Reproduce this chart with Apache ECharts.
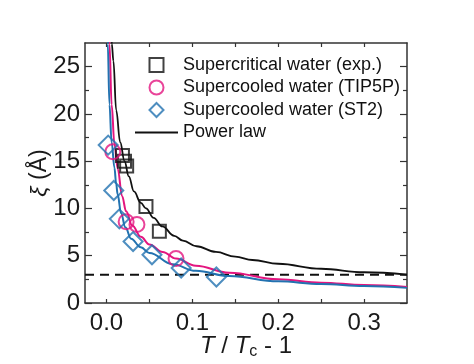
<!DOCTYPE html>
<html>
<head>
<meta charset="utf-8">
<script src="https://cdn.jsdelivr.net/npm/echarts@6/dist/echarts.min.js"></script>
<style>html,body{margin:0;padding:0;background:#fff;}#c{width:474px;height:364px;}</style>
</head>
<body>
<div id="c"></div>
<script>
// ---- data ----
const seriesNames = ['Supercritical water (exp.)', 'Supercooled water (TIP5P)', 'Supercooled water (ST2)', 'Power law'];
const expPoints = [[0.0186, 15.6], [0.021, 15.0], [0.0235, 14.5], [0.046, 10.2], [0.0616, 7.6]];
const tip5pPoints = [[0.0074, 16.0], [0.0229, 8.6], [0.0355, 8.3], [0.081, 4.7]];
const st2Points = [[0.002, 16.7], [0.0085, 11.9], [0.015, 8.9], [0.031, 6.5], [0.053, 5.1], [0.087, 3.7], [0.128, 2.75]];
const powerLawExp = [[0.0055, 29.5], [0.0062, 27.4], [0.0081, 25.6], [0.0113, 20.4], [0.016, 17.0], [0.021, 15.0], [0.026, 13.4], [0.032, 11.8], [0.040, 10.6], [0.046, 10.0], [0.055, 9.0], [0.065, 8.1], [0.079, 7.1], [0.089, 6.6], [0.105, 6.0], [0.1275, 5.4], [0.150, 4.9], [0.170, 4.55], [0.200, 4.15], [0.250, 3.62], [0.300, 3.25], [0.350, 3.0]];
const powerLawTip5p = [[0.0030, 29.5], [0.0035, 27.4], [0.0060, 21.0], [0.0093, 16.8], [0.0131, 14.2], [0.0182, 11.3], [0.0229, 9.7], [0.030, 8.2], [0.040, 7.0], [0.050, 6.2], [0.0655, 5.4], [0.081, 4.7], [0.104, 3.95], [0.143, 3.2], [0.200, 2.5], [0.250, 2.15], [0.300, 1.9], [0.350, 1.7]];
const powerLawSt2 = [[0.0012, 29.5], [0.0015, 27.4], [0.0035, 21.0], [0.0060, 17.0], [0.0093, 14.3], [0.0113, 12.6], [0.013, 11.5], [0.017, 9.5], [0.022, 8.0], [0.0287, 6.8], [0.040, 5.9], [0.050, 5.3], [0.077, 4.1], [0.104, 3.4], [0.143, 2.85], [0.200, 2.3], [0.250, 2.0], [0.300, 1.8], [0.350, 1.6]];
const thresholdLine = [[-0.025, 3], [0.35, 3]];
const xMajorTicks = [0, 0.1, 0.2, 0.3];
const xMinorTicks = [0.05, 0.15, 0.25];
const yMajorTicks = [0, 5, 10, 15, 20, 25];
const yMinorTicks = [2.5, 7.5, 12.5, 17.5, 22.5];
const xRange = [-0.025, 0.35];
const yRange = [0, 27.5];

const BLACK = '#111';
const PINK = '#e3157f';
const BLUE = '#2272b0';
const AXIS = '#333';

function xAxisDef(position, ticks, len, showLine, showLabels, extra) {
  return Object.assign({
    type: 'value', position: position, min: xRange[0], max: xRange[1],
    axisLine: {show: showLine, onZero: false, lineStyle: {color: AXIS, width: 1.5}},
    axisTick: {show: true, inside: true, length: len, customValues: ticks, lineStyle: {color: AXIS, width: 1.2}},
    axisLabel: showLabels ? {show: true, customValues: ticks, formatter: v => v.toFixed(1), fontFamily: 'Liberation Sans', fontSize: 24, color: '#1a1a1a', margin: 8} : {show: false},
    splitLine: {show: false}
  }, extra || {});
}
function yAxisDef(position, ticks, len, showLine, showLabels, extra) {
  return Object.assign({
    type: 'value', position: position, min: yRange[0], max: yRange[1],
    axisLine: {show: showLine, onZero: false, lineStyle: {color: AXIS, width: 1.5}},
    axisTick: {show: true, inside: true, length: len, customValues: ticks, lineStyle: {color: AXIS, width: 1.2}},
    axisLabel: showLabels ? {show: true, customValues: ticks, fontFamily: 'Liberation Sans', fontSize: 24, color: '#1a1a1a', margin: 5} : {show: false},
    splitLine: {show: false}
  }, extra || {});
}

const chart = echarts.init(document.getElementById('c'), null, {renderer: 'canvas'});
chart.setOption({
  animation: false,
  backgroundColor: '#fff',
  grid: {left: 85, right: 67, top: 43, bottom: 61, containLabel: false, outerBoundsMode: 'none'},
  legend: {
    data: [
      {name: seriesNames[0], icon: 'path://M0,0 L10,0 L10,10 L0,10 Z'},
      {name: seriesNames[1], icon: 'circle'},
      {name: seriesNames[2], icon: 'path://M6,0 L12,6 L6,12 L0,6 Z'},
      {name: seriesNames[3], icon: 'path://M0,0 L43,0 L43,2 L0,2 Z'}
    ],
    orient: 'vertical', left: 130, top: 51,
    itemWidth: 43, itemHeight: 14, itemGap: 4.5,
    symbolKeepAspect: true,
    textStyle: {fontFamily: 'Liberation Sans', fontSize: 18, lineHeight: 18, color: '#111', padding: [0, 0, 0, 0]},
    selectedMode: false
  },
  xAxis: [
    xAxisDef('bottom', xMajorTicks, 4, true, true),
    xAxisDef('bottom', xMinorTicks, 4, false, false, {
      name: '{i|T} / {i|T}{sub|c} - 1', nameLocation: 'middle', nameGap: 29,
      nameTextStyle: {fontFamily: 'Liberation Sans', fontSize: 24, color: '#1a1a1a',
        rich: {i: {fontFamily: 'Liberation Sans', fontStyle: 'italic', fontSize: 24}, sub: {fontFamily: 'Liberation Sans', fontSize: 16, verticalAlign: 'bottom', padding: [12, 0, 0, 0]}}}
    }),
    xAxisDef('top', xMajorTicks, 4, true, false),
    xAxisDef('top', xMinorTicks, 4, false, false)
  ],
  yAxis: [
    yAxisDef('left', yMajorTicks, 7, true, true),
    yAxisDef('left', yMinorTicks, 4, false, false, {
      name: '{i|ξ} (Å)', nameLocation: 'middle', nameGap: 34, nameRotate: 90,
      nameTextStyle: {fontFamily: 'Liberation Sans', fontSize: 23, color: '#1a1a1a',
        rich: {i: {fontFamily: 'Liberation Sans', fontStyle: 'italic', fontSize: 23}}}
    }),
    yAxisDef('right', yMajorTicks, 7, true, false),
    yAxisDef('right', yMinorTicks, 4, false, false)
  ],
  series: [
    {name: 'threshold', type: 'line', data: thresholdLine, symbol: 'none', silent: true,
     lineStyle: {color: BLACK, width: 2, type: [9, 6]}, z: 2},
    {name: 'Power law', type: 'line', data: powerLawExp, symbol: 'none', smooth: 0.4, smoothMonotone: 'x',
     lineStyle: {color: BLACK, width: 1.8}, itemStyle: {color: BLACK}, z: 3},
    {name: 'tip5p fit', type: 'line', data: powerLawTip5p, symbol: 'none', smooth: 0.4, smoothMonotone: 'x',
     lineStyle: {color: PINK, width: 2}, z: 3},
    {name: 'st2 fit', type: 'line', data: powerLawSt2, symbol: 'none', smooth: 0.4, smoothMonotone: 'x',
     lineStyle: {color: BLUE, width: 2}, z: 3},
    {name: seriesNames[0], type: 'scatter', data: expPoints, symbol: 'rect', symbolSize: 13,
     itemStyle: {color: 'rgba(0,0,0,0)', borderColor: BLACK, borderWidth: 2}, z: 5},
    {name: seriesNames[1], type: 'scatter', data: tip5pPoints, symbol: 'circle', symbolSize: 15,
     itemStyle: {color: 'rgba(0,0,0,0)', borderColor: PINK, borderWidth: 2}, z: 5},
    {name: seriesNames[2], type: 'scatter', data: st2Points, symbol: 'diamond', symbolSize: 19,
     itemStyle: {color: 'rgba(0,0,0,0)', borderColor: BLUE, borderWidth: 2}, z: 5}
  ]
});
</script>
</body>
</html>
